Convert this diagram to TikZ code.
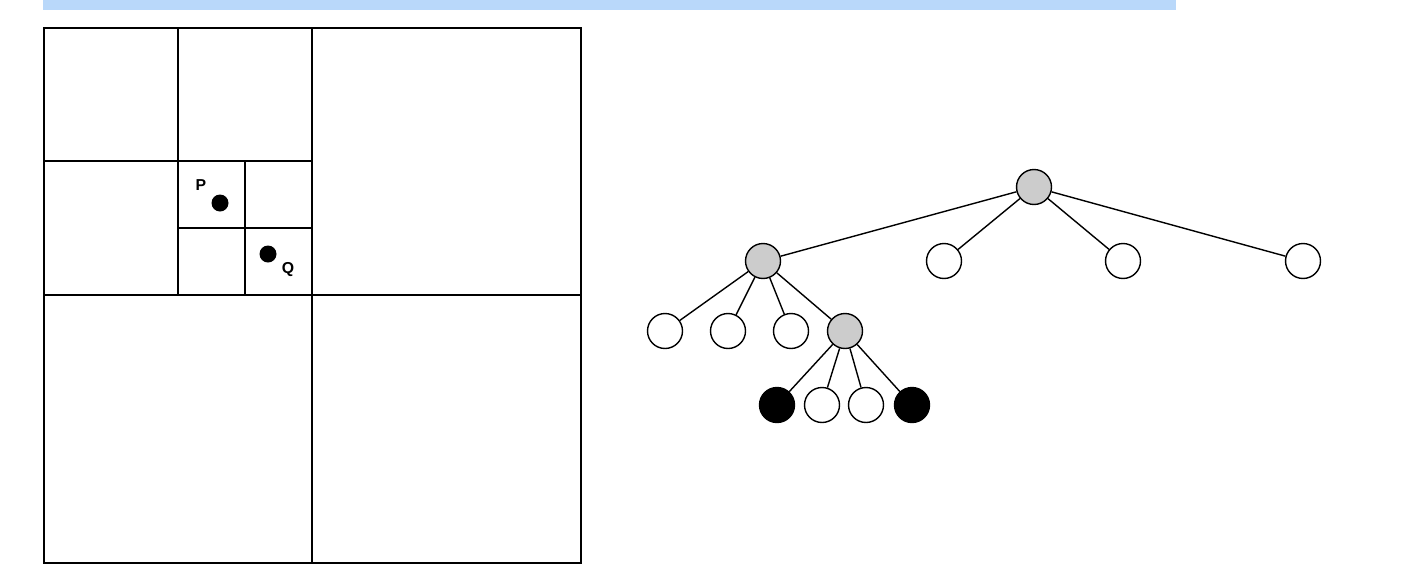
\documentclass[tikz,border=0pt]{standalone}
\usepackage{fontspec}
\setmainfont{Liberation Sans}
\begin{document}
\begin{tikzpicture}[x=0.02cm,y=-0.02cm,
  tn/.style={circle,draw,line width=0.8pt,minimum size=0.7cm,inner sep=0pt,fill=white},
  gn/.style={tn,fill=black!20},
  bn/.style={tn,fill=black},
  dot/.style={circle,fill=black,minimum size=0.34cm,inner sep=0pt},
  lbl/.style={font=\bfseries\small}]
\useasboundingbox (0,0) rectangle (1412,572);
\fill[blue!30!cyan!20!white,fill={rgb,255:red,185;green,216;blue,250}] (43,0) rectangle (1176,10);
\begin{scope}[line width=0.9pt]
\draw (44,28) rectangle (581,563);
\draw (312,28) -- (312,563);
\draw (44,295) -- (581,295);
\draw (178,28) -- (178,295);
\draw (44,161) -- (312,161);
\draw (245,161) -- (245,295);
\draw (178,228) -- (312,228);
\end{scope}
\node[dot] (p) at (220,203) {};
\node[lbl] (pl) at (201,185) {P};
\node[dot] (q) at (268,254) {};
\node[lbl] (ql) at (288,270) {Q};

\node[gn] (r) at (1034,187) {};
\node[gn] (a) at (763,261) {};
\node[tn] (b) at (944,261) {};
\node[tn] (c) at (1123,261) {};
\node[tn] (d) at (1303,261) {};
\node[tn] (a1) at (665,331) {};
\node[tn] (a2) at (728,331) {};
\node[tn] (a3) at (791,331) {};
\node[gn] (a4) at (845,331) {};
\node[bn] (g1) at (777,405) {};
\node[tn] (g2) at (822,405) {};
\node[tn] (g3) at (866,405) {};
\node[bn] (g4) at (912,405) {};
\begin{scope}[line width=0.8pt]
\foreach \t in {a,b,c,d} \draw (r) -- (\t);
\foreach \t in {a1,a2,a3,a4} \draw (a) -- (\t);
\foreach \t in {g1,g2,g3,g4} \draw (a4) -- (\t);
\end{scope}
\end{tikzpicture}
\end{document}
